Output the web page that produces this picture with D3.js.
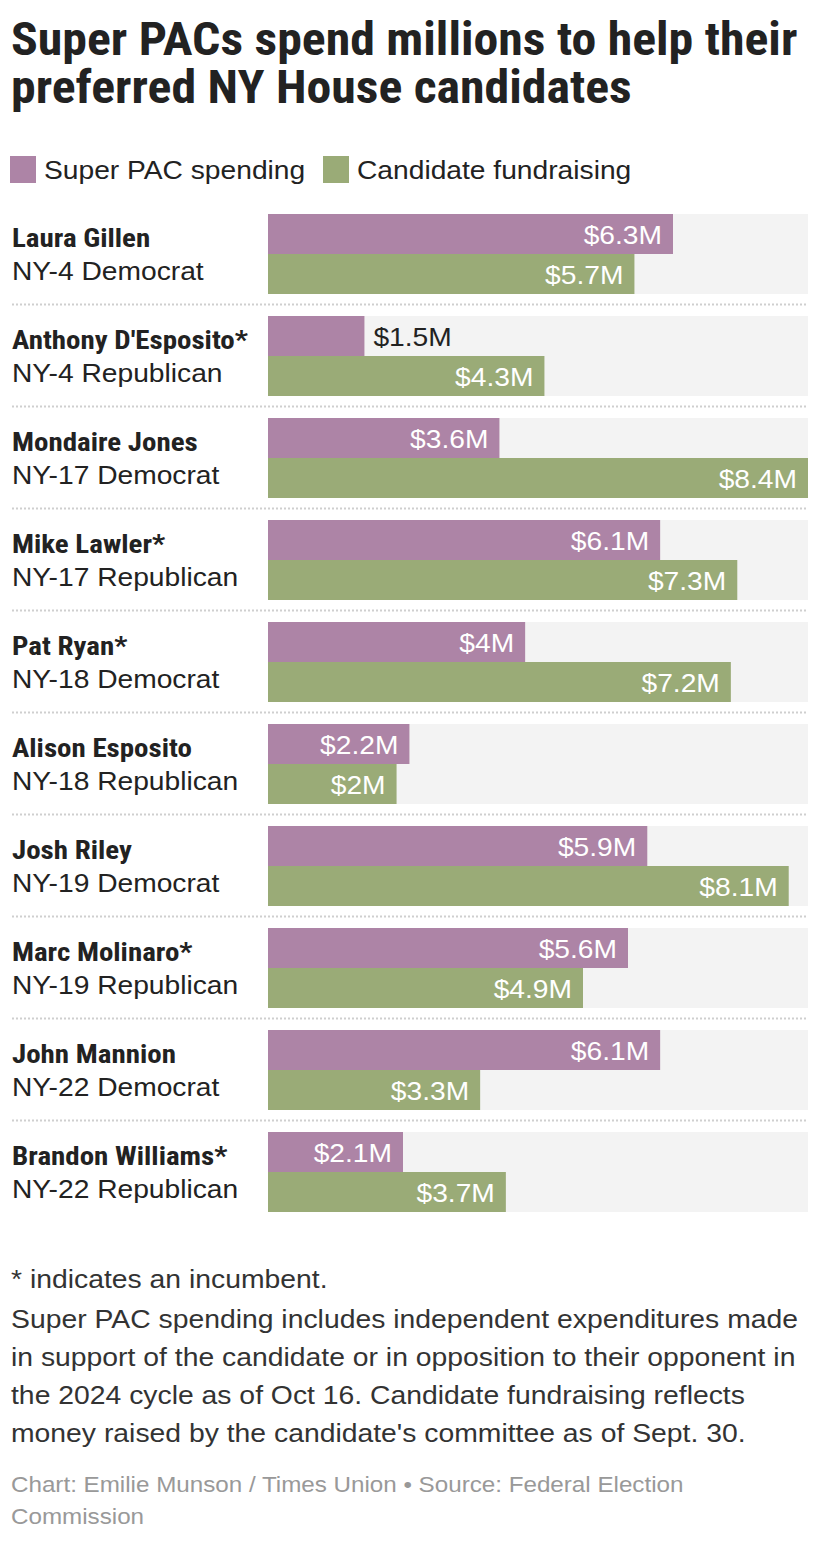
<!DOCTYPE html>
<html>
<head>
<meta charset="utf-8">
<script src="https://cdn.jsdelivr.net/npm/d3@7"></script>
<style>
  html, body { margin: 0; padding: 0; background: #fff; }
  svg { display: block; }
</style>
</head>
<body>
<svg id="chart" width="820" height="1544"></svg>
<script>
const candidates = ["Laura Gillen", "Anthony D'Esposito*", "Mondaire Jones", "Mike Lawler*", "Pat Ryan*",
  "Alison Esposito", "Josh Riley", "Marc Molinaro*", "John Mannion", "Brandon Williams*"];
const districts = ["NY-4 Democrat", "NY-4 Republican", "NY-17 Democrat", "NY-17 Republican", "NY-18 Democrat",
  "NY-18 Republican", "NY-19 Democrat", "NY-19 Republican", "NY-22 Democrat", "NY-22 Republican"];
const superPac = [6.3, 1.5, 3.6, 6.1, 4.0, 2.2, 5.9, 5.6, 6.1, 2.1];
const fundraising = [5.7, 4.3, 8.4, 7.3, 7.2, 2.0, 8.1, 4.9, 3.3, 3.7];
const seriesNames = ["Super PAC spending", "Candidate fundraising"];
const seriesColors = ["#ad84a6", "#9aab77"];
const titleLines = ["Super PACs spend millions to help their", "preferred NY House candidates"];
const noteLines = ["* indicates an incumbent.",
  "Super PAC spending includes independent expenditures made",
  "in support of the candidate or in opposition to their opponent in",
  "the 2024 cycle as of Oct 16. Candidate fundraising reflects",
  "money raised by the candidate's committee as of Sept. 30."];
const sourceLines = ["Chart: Emilie Munson / Times Union \u2022 Source: Federal Election", "Commission"];

const svg = d3.select("#chart");
const condensed = "'Liberation Sans Narrow', 'Roboto Condensed', 'DejaVu Sans Condensed', sans-serif";
const sans = "'Liberation Sans', Arial, Helvetica, sans-serif";

// helper: horizontally stretched text (reference typeface is wider than the available ones)
function place(sel, xf, yf, sx) {
  return sel.attr("x", 0).attr("y", 0)
    .attr("transform", (d, i) => `translate(${typeof xf === "function" ? xf(d, i) : xf},${typeof yf === "function" ? yf(d, i) : yf}) scale(${sx},1)`);
}

// Title
place(svg.append("g").selectAll("text").data(titleLines).join("text"), 11, (d, i) => 55 + i * 48, 1.083)
  .attr("font-family", condensed).attr("font-weight", 700).attr("font-size", 46)
  .attr("fill", "#222").text(d => d);

// Legend
const legend = svg.append("g");
const legendX = [10, 323];
seriesNames.forEach((n, i) => {
  legend.append("rect").attr("x", legendX[i]).attr("y", 156).attr("width", 26).attr("height", 27)
    .attr("fill", seriesColors[i]);
  place(legend.append("text"), legendX[i] + 34, 179, 1.085)
    .attr("font-family", sans).attr("font-size", 26).attr("fill", "#222").text(n);
});

// Scales
const rowTop = 214, rowStep = 102, barH = 40;
const x = d3.scaleLinear().domain([0, d3.max(fundraising.concat(superPac))]).range([268, 808]);
const y = d3.scaleBand().domain(d3.range(candidates.length)).range([rowTop, rowTop + rowStep * candidates.length]);
const fmt = v => "$" + (Math.round(v * 10) / 10).toString() + "M";

const rows = svg.append("g").selectAll("g").data(candidates).join("g")
  .attr("transform", (d, i) => `translate(0,${y(i)})`);

rows.append("rect").attr("x", x(0)).attr("y", 0).attr("width", x.range()[1] - x(0)).attr("height", barH * 2)
  .attr("fill", "#f3f3f3");

[superPac, fundraising].forEach((vals, s) => {
  const inside = i => x(vals[i]) - x(0) > 110;
  rows.append("rect").attr("x", x(0)).attr("y", s * barH)
    .attr("width", (d, i) => x(vals[i]) - x(0)).attr("height", barH).attr("fill", seriesColors[s]);
  place(rows.append("text"), (d, i) => inside(i) ? x(vals[i]) - 11 : x(vals[i]) + 9, s * barH + 30, 1.085)
    .attr("text-anchor", (d, i) => inside(i) ? "end" : "start")
    .attr("font-family", sans).attr("font-size", 26)
    .attr("fill", (d, i) => inside(i) ? "#fff" : "#222")
    .text((d, i) => fmt(vals[i]));
});

place(rows.append("text"), 12, 33, 1.115)
  .attr("font-family", condensed).attr("font-weight", 700).attr("font-size", 26).attr("fill", "#222")
  .text(d => d);
place(rows.append("text"), 12, 66, 1.085)
  .attr("font-family", sans).attr("font-size", 26).attr("fill", "#222")
  .text((d, i) => districts[i]);

rows.filter((d, i) => i < candidates.length - 1).append("line")
  .attr("x1", 12).attr("x2", 808).attr("y1", 90.5).attr("y2", 90.5)
  .attr("stroke", "#cfcfcf").attr("stroke-width", 2).attr("stroke-dasharray", "2,2");

// Notes
place(svg.append("g").selectAll("text").data(noteLines).join("text"), 11,
  (d, i) => i === 0 ? 1288 : 1328 + (i - 1) * 38, 1.09)
  .attr("font-family", sans).attr("font-size", 26).attr("fill", "#333").text(d => d);

place(svg.append("g").selectAll("text").data(sourceLines).join("text"), 11, (d, i) => 1492 + i * 32, 1.1)
  .attr("font-family", sans).attr("font-size", 22).attr("fill", "#999").text(d => d);
</script>
</body>
</html>
